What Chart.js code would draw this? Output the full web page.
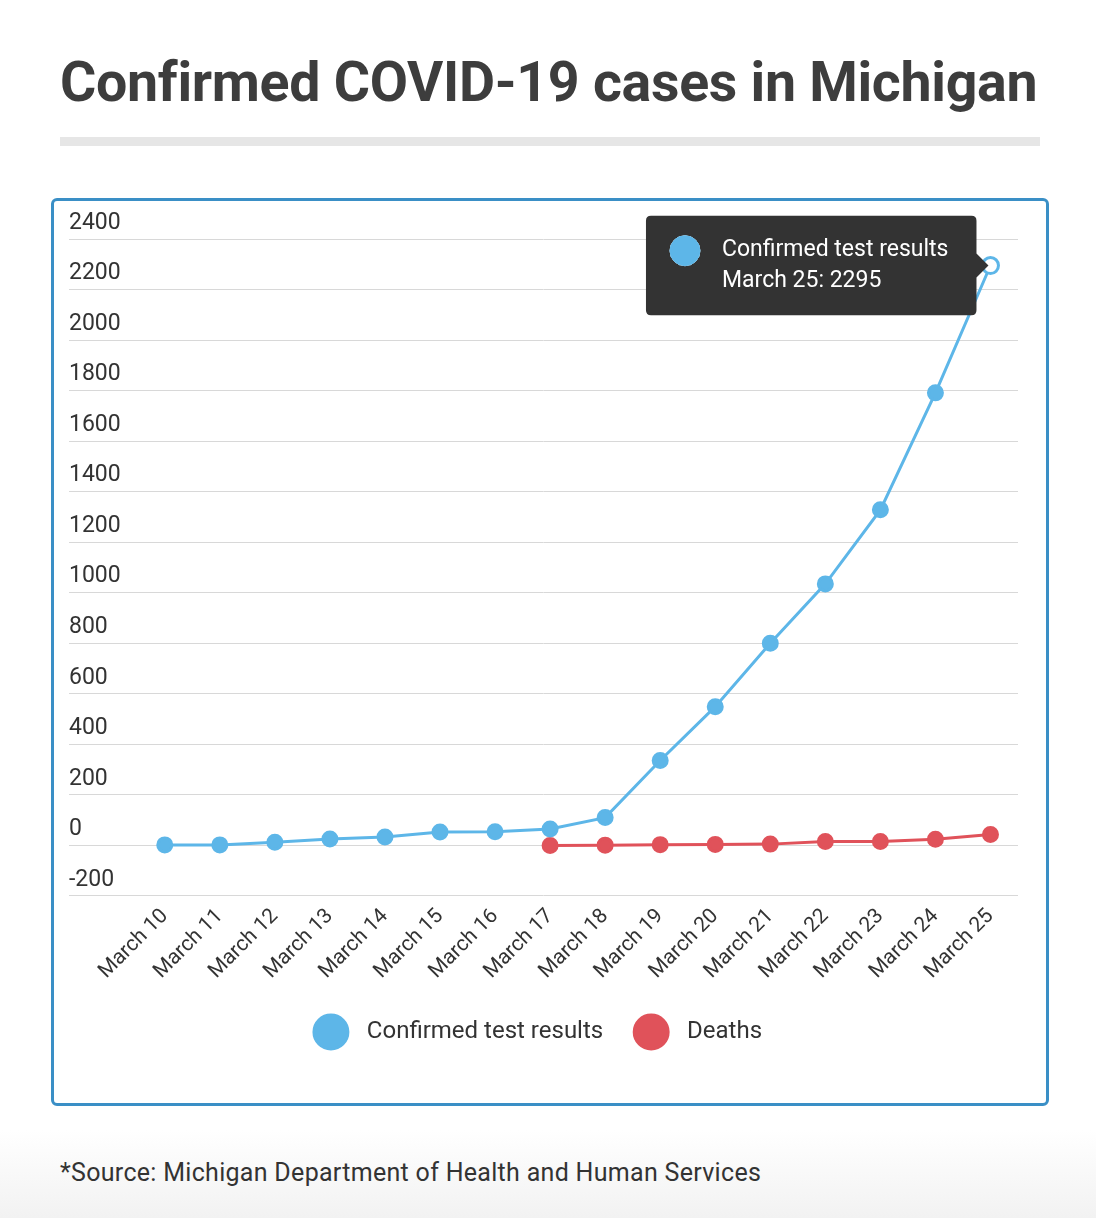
<!DOCTYPE html>
<html><head><meta charset="utf-8">
<script src="https://cdn.jsdelivr.net/npm/chart.js@4/dist/chart.umd.min.js"></script>
<style>
body{margin:0;background:#fff;font-family:Roboto,sans-serif;width:1096px;height:1218px;position:relative;overflow:hidden}
h1{position:absolute;left:60px;top:50px;margin:0;font-size:55.5px;font-weight:700;color:#3d3d3d;letter-spacing:-0.3px}
#bar{position:absolute;left:60px;top:137px;width:980px;height:9px;background:#e6e6e6}
#box{position:absolute;left:51px;top:198px;width:992px;height:902px;border:3px solid #3a8fc6;border-radius:6px}
#wrap{position:absolute;left:4px;top:2px;width:985px;height:898px}
#foot{position:absolute;left:0;top:1130px;width:1096px;height:88px;background:linear-gradient(#fff,#f2f2f2)}
#src{position:absolute;left:60px;top:1158px;font-size:25px;color:#333;letter-spacing:0.3px}
</style></head><body>
<h1>Confirmed COVID-19 cases in Michigan</h1>
<div id="bar"></div>
<div id="box"><div id="wrap"><canvas id="c"></canvas></div></div>
<div id="foot"></div>
<div id="src">*Source: Michigan Department of Health and Human Services</div>
<script>
const days = ["March 10","March 11","March 12","March 13","March 14","March 15","March 16","March 17","March 18","March 19","March 20","March 21","March 22","March 23","March 24","March 25"];
const confirmed = [2,2,12,25,33,53,54,65,110,336,549,800,1035,1328,1791,2295];
const deaths = [null,null,null,null,null,null,null,0,1,3,4,5,15,15,24,43];
const yTicks = {min:-200,max:2400,step:200};

const pts = arr => arr.map((v,i)=>({x:i,y:v}));

const chart = new Chart(document.getElementById("c"), {
  type: "line",
  data: {
    datasets: [
      {label:"Confirmed test results",data:pts(confirmed),borderColor:"#5db6e8",backgroundColor:"#5db6e8",
       borderWidth:3,pointRadius:7,pointHoverRadius:8,pointHoverBackgroundColor:"#fff",pointHoverBorderColor:"#5db6e8",pointHoverBorderWidth:3},
      {label:"Deaths",data:pts(deaths),borderColor:"#e0525a",backgroundColor:"#e0525a",
       borderWidth:3,pointRadius:7,pointHoverRadius:8}
    ]
  },
  options: {
    responsive:true, maintainAspectRatio:false, animation:false, parsing:false,
    layout:{padding:{left:5,right:25,top:36,bottom:10}},
    scales:{
      x:{type:"linear",min:-1.74,max:15.5,grid:{display:false},border:{display:false},
         afterBuildTicks:s=>{s.ticks=days.map((d,i)=>({value:i}));},
         ticks:{color:"#333",font:{family:"Roboto",size:21},maxRotation:45,minRotation:45,padding:0,autoSkip:false,
                callback:v=>days[v]??""}},
      y:{min:yTicks.min,max:yTicks.max,border:{display:false},grid:{color:"#d8d8d8",drawTicks:false},
         afterFit:s=>{s.width=0;},
         ticks:{stepSize:yTicks.step,mirror:true,padding:0,labelOffset:-16,color:"#333",font:{family:"Roboto",size:23},
                callback:v=>String(v)}}
    },
    plugins:{
      legend:{position:"bottom",labels:{usePointStyle:true,pointStyle:"circle",boxWidth:32,boxHeight:32,padding:36,color:"#333",font:{family:"Roboto",size:24},
        generateLabels:c=>Chart.defaults.plugins.legend.labels.generateLabels(c).map(l=>({...l,text:"  "+l.text}))}},
      tooltip:{backgroundColor:"#333",titleFont:{family:"Roboto",size:23,weight:"bold"},bodyFont:{family:"Roboto",size:23},
        padding:{left:24,right:28,top:20,bottom:20},caretSize:12,cornerRadius:5,usePointStyle:true,boxWidth:30,boxHeight:30,boxPadding:20,
        titleMarginBottom:2,displayColors:true,
        callbacks:{
          title:()=>"",
          beforeBody:i=>"",
          label:i=>[i.dataset.label, days[i.parsed.x]+": "+i.parsed.y],
          labelPointStyle:()=>({pointStyle:"circle",rotation:0}),
          labelColor:i=>({borderColor:i.dataset.borderColor,backgroundColor:i.dataset.backgroundColor})
        }}
    }
  },
  plugins:[{id:"bottomPad",beforeLayout:c=>{}}]
});
chart.options.layout.padding.bottom=47;
chart.update();
const act=[{datasetIndex:0,index:15}];
chart.setActiveElements(act);
const p=chart.getDatasetMeta(0).data[15];
chart.tooltip.setActiveElements(act,{x:p.x,y:p.y});
chart.update();
</script>
</body></html>
